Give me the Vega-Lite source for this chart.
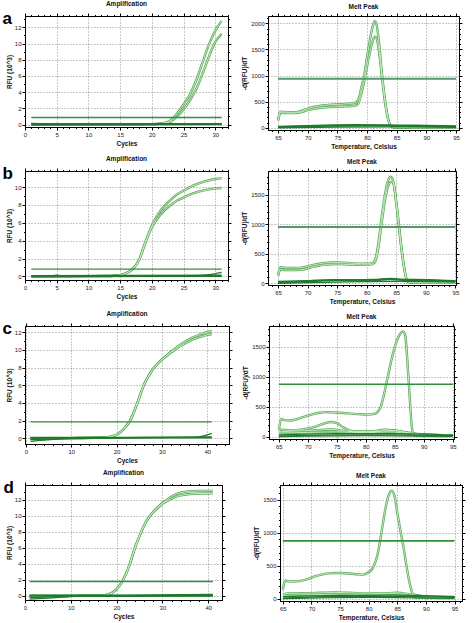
{
"$schema": "https://vega.github.io/schema/vega-lite/v6.json",
"background": "white",
"padding": {"left": 1, "top": 0, "right": 2, "bottom": 0},
"config": {
  "view": {"stroke": "#000", "strokeWidth": 1},
  "title": {"font": "Liberation Sans", "fontSize": 6.5, "fontWeight": "bold", "color": "#111", "offset": 2},
  "axis": {"labelFont": "Liberation Sans", "labelFontSize": 6, "labelColor": "#222", "labelPadding": 1, "labelOverlap": false, "labelFlush": false,
    "titleFont": "Liberation Sans", "titleFontSize": 6.5, "titleFontWeight": "bold", "titleColor": "#111", "titlePadding": 3,
    "domainColor": "#000", "domainWidth": 1, "tickColor": "#000", "tickWidth": 1, "gridColor": "#909090", "gridDash": [1, 2], "gridWidth": 1}
},
"datasets": {
"amp": [
{"panel":"a","series":"S1","kind":"sample","cycle":1,"rfu":0.02},{"panel":"a","series":"S1","kind":"sample","cycle":5,"rfu":0.02},{"panel":"a","series":"S1","kind":"sample","cycle":10,"rfu":0.03},{"panel":"a","series":"S1","kind":"sample","cycle":15,"rfu":0.03},{"panel":"a","series":"S1","kind":"sample","cycle":18,"rfu":0.04},{"panel":"a","series":"S1","kind":"sample","cycle":20,"rfu":0.06},{"panel":"a","series":"S1","kind":"sample","cycle":21,"rfu":0.1},{"panel":"a","series":"S1","kind":"sample","cycle":22,"rfu":0.22},{"panel":"a","series":"S1","kind":"sample","cycle":23,"rfu":0.55},{"panel":"a","series":"S1","kind":"sample","cycle":24,"rfu":1.4},{"panel":"a","series":"S1","kind":"sample","cycle":25,"rfu":2.5},{"panel":"a","series":"S1","kind":"sample","cycle":26,"rfu":3.7},{"panel":"a","series":"S1","kind":"sample","cycle":27,"rfu":5.5},{"panel":"a","series":"S1","kind":"sample","cycle":28,"rfu":7.7},{"panel":"a","series":"S1","kind":"sample","cycle":29,"rfu":9.9},{"panel":"a","series":"S1","kind":"sample","cycle":30,"rfu":11.6},{"panel":"a","series":"S1","kind":"sample","cycle":31,"rfu":12.8},
{"panel":"a","series":"S2","kind":"sample","cycle":1,"rfu":0.02},{"panel":"a","series":"S2","kind":"sample","cycle":5,"rfu":0.02},{"panel":"a","series":"S2","kind":"sample","cycle":10,"rfu":0.03},{"panel":"a","series":"S2","kind":"sample","cycle":15,"rfu":0.03},{"panel":"a","series":"S2","kind":"sample","cycle":18,"rfu":0.04},{"panel":"a","series":"S2","kind":"sample","cycle":20,"rfu":0.05},{"panel":"a","series":"S2","kind":"sample","cycle":21,"rfu":0.08},{"panel":"a","series":"S2","kind":"sample","cycle":22,"rfu":0.16},{"panel":"a","series":"S2","kind":"sample","cycle":23,"rfu":0.4},{"panel":"a","series":"S2","kind":"sample","cycle":24,"rfu":1.0},{"panel":"a","series":"S2","kind":"sample","cycle":25,"rfu":1.9},{"panel":"a","series":"S2","kind":"sample","cycle":26,"rfu":3.0},{"panel":"a","series":"S2","kind":"sample","cycle":27,"rfu":4.4},{"panel":"a","series":"S2","kind":"sample","cycle":28,"rfu":6.3},{"panel":"a","series":"S2","kind":"sample","cycle":29,"rfu":8.4},{"panel":"a","series":"S2","kind":"sample","cycle":30,"rfu":10.2},{"panel":"a","series":"S2","kind":"sample","cycle":31,"rfu":11.2},
{"panel":"a","series":"T","kind":"threshold","cycle":1,"rfu":0.88},{"panel":"a","series":"T","kind":"threshold","cycle":31,"rfu":0.88},
{"panel":"a","series":"B1","kind":"baseline","cycle":1,"rfu":0.1},{"panel":"a","series":"B1","kind":"baseline","cycle":10,"rfu":0.08},{"panel":"a","series":"B1","kind":"baseline","cycle":20,"rfu":0.1},{"panel":"a","series":"B1","kind":"baseline","cycle":31,"rfu":0.12},
{"panel":"a","series":"B2","kind":"baseline","cycle":1,"rfu":0.0},{"panel":"a","series":"B2","kind":"baseline","cycle":15,"rfu":0.02},{"panel":"a","series":"B2","kind":"baseline","cycle":31,"rfu":0.05},
{"panel":"a","series":"B3","kind":"baseline","cycle":1,"rfu":0.15},{"panel":"a","series":"B3","kind":"baseline","cycle":5,"rfu":0.1},{"panel":"a","series":"B3","kind":"baseline","cycle":31,"rfu":0.08},
{"panel":"a","series":"B4","kind":"baseline","cycle":1,"rfu":-0.05},{"panel":"a","series":"B4","kind":"baseline","cycle":31,"rfu":0.0},

{"panel":"b","series":"S1","kind":"sample","cycle":1,"rfu":0.0},{"panel":"b","series":"S1","kind":"sample","cycle":5,"rfu":0.02},{"panel":"b","series":"S1","kind":"sample","cycle":10,"rfu":0.03},{"panel":"b","series":"S1","kind":"sample","cycle":13,"rfu":0.05},{"panel":"b","series":"S1","kind":"sample","cycle":14,"rfu":0.08},{"panel":"b","series":"S1","kind":"sample","cycle":15,"rfu":0.15},{"panel":"b","series":"S1","kind":"sample","cycle":16,"rfu":0.38},{"panel":"b","series":"S1","kind":"sample","cycle":17,"rfu":0.85},{"panel":"b","series":"S1","kind":"sample","cycle":18,"rfu":1.9},{"panel":"b","series":"S1","kind":"sample","cycle":19,"rfu":3.9},{"panel":"b","series":"S1","kind":"sample","cycle":20,"rfu":5.7},{"panel":"b","series":"S1","kind":"sample","cycle":21,"rfu":7.0},{"panel":"b","series":"S1","kind":"sample","cycle":22,"rfu":7.9},{"panel":"b","series":"S1","kind":"sample","cycle":23,"rfu":8.6},{"panel":"b","series":"S1","kind":"sample","cycle":24,"rfu":9.2},{"panel":"b","series":"S1","kind":"sample","cycle":25,"rfu":9.6},{"panel":"b","series":"S1","kind":"sample","cycle":26,"rfu":10.0},{"panel":"b","series":"S1","kind":"sample","cycle":27,"rfu":10.3},{"panel":"b","series":"S1","kind":"sample","cycle":28,"rfu":10.55},{"panel":"b","series":"S1","kind":"sample","cycle":29,"rfu":10.75},{"panel":"b","series":"S1","kind":"sample","cycle":30,"rfu":10.9},{"panel":"b","series":"S1","kind":"sample","cycle":31,"rfu":11.0},
{"panel":"b","series":"S2","kind":"sample","cycle":1,"rfu":0.0},{"panel":"b","series":"S2","kind":"sample","cycle":5,"rfu":0.02},{"panel":"b","series":"S2","kind":"sample","cycle":10,"rfu":0.03},{"panel":"b","series":"S2","kind":"sample","cycle":13,"rfu":0.05},{"panel":"b","series":"S2","kind":"sample","cycle":14,"rfu":0.08},{"panel":"b","series":"S2","kind":"sample","cycle":15,"rfu":0.15},{"panel":"b","series":"S2","kind":"sample","cycle":16,"rfu":0.38},{"panel":"b","series":"S2","kind":"sample","cycle":17,"rfu":0.85},{"panel":"b","series":"S2","kind":"sample","cycle":18,"rfu":1.85},{"panel":"b","series":"S2","kind":"sample","cycle":19,"rfu":3.8},{"panel":"b","series":"S2","kind":"sample","cycle":20,"rfu":5.5},{"panel":"b","series":"S2","kind":"sample","cycle":21,"rfu":6.6},{"panel":"b","series":"S2","kind":"sample","cycle":22,"rfu":7.4},{"panel":"b","series":"S2","kind":"sample","cycle":23,"rfu":8.0},{"panel":"b","series":"S2","kind":"sample","cycle":24,"rfu":8.5},{"panel":"b","series":"S2","kind":"sample","cycle":25,"rfu":8.85},{"panel":"b","series":"S2","kind":"sample","cycle":26,"rfu":9.15},{"panel":"b","series":"S2","kind":"sample","cycle":27,"rfu":9.4},{"panel":"b","series":"S2","kind":"sample","cycle":28,"rfu":9.6},{"panel":"b","series":"S2","kind":"sample","cycle":29,"rfu":9.75},{"panel":"b","series":"S2","kind":"sample","cycle":30,"rfu":9.85},{"panel":"b","series":"S2","kind":"sample","cycle":31,"rfu":9.9},
{"panel":"b","series":"T","kind":"threshold","cycle":1,"rfu":0.82},{"panel":"b","series":"T","kind":"threshold","cycle":31,"rfu":0.82},
{"panel":"b","series":"B1","kind":"baseline","cycle":1,"rfu":0.05},{"panel":"b","series":"B1","kind":"baseline","cycle":4,"rfu":0.05},{"panel":"b","series":"B1","kind":"baseline","cycle":5,"rfu":0.15},{"panel":"b","series":"B1","kind":"baseline","cycle":6,"rfu":0.05},{"panel":"b","series":"B1","kind":"baseline","cycle":20,"rfu":0.05},{"panel":"b","series":"B1","kind":"baseline","cycle":27,"rfu":0.08},{"panel":"b","series":"B1","kind":"baseline","cycle":29,"rfu":0.2},{"panel":"b","series":"B1","kind":"baseline","cycle":31,"rfu":0.45},
{"panel":"b","series":"B2","kind":"baseline","cycle":1,"rfu":0.0},{"panel":"b","series":"B2","kind":"baseline","cycle":31,"rfu":0.1},
{"panel":"b","series":"B3","kind":"baseline","cycle":1,"rfu":0.08},{"panel":"b","series":"B3","kind":"baseline","cycle":31,"rfu":0.15},
{"panel":"b","series":"B4","kind":"baseline","cycle":1,"rfu":-0.03},{"panel":"b","series":"B4","kind":"baseline","cycle":31,"rfu":0.02},

{"panel":"c","series":"S1","kind":"sample","cycle":1,"rfu":0.0},{"panel":"c","series":"S1","kind":"sample","cycle":5,"rfu":0.0},{"panel":"c","series":"S1","kind":"sample","cycle":10,"rfu":0.02},{"panel":"c","series":"S1","kind":"sample","cycle":15,"rfu":0.05},{"panel":"c","series":"S1","kind":"sample","cycle":17,"rfu":0.08},{"panel":"c","series":"S1","kind":"sample","cycle":18,"rfu":0.12},{"panel":"c","series":"S1","kind":"sample","cycle":19,"rfu":0.22},{"panel":"c","series":"S1","kind":"sample","cycle":20,"rfu":0.4},{"panel":"c","series":"S1","kind":"sample","cycle":21,"rfu":0.75},{"panel":"c","series":"S1","kind":"sample","cycle":22,"rfu":1.3},{"panel":"c","series":"S1","kind":"sample","cycle":23,"rfu":2.0},{"panel":"c","series":"S1","kind":"sample","cycle":24,"rfu":3.2},{"panel":"c","series":"S1","kind":"sample","cycle":25,"rfu":4.6},{"panel":"c","series":"S1","kind":"sample","cycle":26,"rfu":6.0},{"panel":"c","series":"S1","kind":"sample","cycle":27,"rfu":7.0},{"panel":"c","series":"S1","kind":"sample","cycle":28,"rfu":7.8},{"panel":"c","series":"S1","kind":"sample","cycle":29,"rfu":8.4},{"panel":"c","series":"S1","kind":"sample","cycle":30,"rfu":8.9},{"panel":"c","series":"S1","kind":"sample","cycle":31,"rfu":9.35},{"panel":"c","series":"S1","kind":"sample","cycle":32,"rfu":9.8},{"panel":"c","series":"S1","kind":"sample","cycle":33,"rfu":10.2},{"panel":"c","series":"S1","kind":"sample","cycle":34,"rfu":10.55},{"panel":"c","series":"S1","kind":"sample","cycle":35,"rfu":10.9},{"panel":"c","series":"S1","kind":"sample","cycle":36,"rfu":11.2},{"panel":"c","series":"S1","kind":"sample","cycle":37,"rfu":11.45},{"panel":"c","series":"S1","kind":"sample","cycle":38,"rfu":11.65},{"panel":"c","series":"S1","kind":"sample","cycle":39,"rfu":11.85},{"panel":"c","series":"S1","kind":"sample","cycle":40,"rfu":12.0},{"panel":"c","series":"S1","kind":"sample","cycle":41,"rfu":12.1},
{"panel":"c","series":"S2","kind":"sample","cycle":1,"rfu":0.0},{"panel":"c","series":"S2","kind":"sample","cycle":5,"rfu":0.0},{"panel":"c","series":"S2","kind":"sample","cycle":10,"rfu":0.02},{"panel":"c","series":"S2","kind":"sample","cycle":15,"rfu":0.05},{"panel":"c","series":"S2","kind":"sample","cycle":17,"rfu":0.08},{"panel":"c","series":"S2","kind":"sample","cycle":18,"rfu":0.12},{"panel":"c","series":"S2","kind":"sample","cycle":19,"rfu":0.22},{"panel":"c","series":"S2","kind":"sample","cycle":20,"rfu":0.4},{"panel":"c","series":"S2","kind":"sample","cycle":21,"rfu":0.75},{"panel":"c","series":"S2","kind":"sample","cycle":22,"rfu":1.3},{"panel":"c","series":"S2","kind":"sample","cycle":23,"rfu":2.0},{"panel":"c","series":"S2","kind":"sample","cycle":24,"rfu":3.2},{"panel":"c","series":"S2","kind":"sample","cycle":25,"rfu":4.6},{"panel":"c","series":"S2","kind":"sample","cycle":26,"rfu":6.0},{"panel":"c","series":"S2","kind":"sample","cycle":27,"rfu":7.0},{"panel":"c","series":"S2","kind":"sample","cycle":28,"rfu":7.8},{"panel":"c","series":"S2","kind":"sample","cycle":29,"rfu":8.4},{"panel":"c","series":"S2","kind":"sample","cycle":30,"rfu":8.9},{"panel":"c","series":"S2","kind":"sample","cycle":31,"rfu":9.3},{"panel":"c","series":"S2","kind":"sample","cycle":32,"rfu":9.7},{"panel":"c","series":"S2","kind":"sample","cycle":33,"rfu":10.05},{"panel":"c","series":"S2","kind":"sample","cycle":34,"rfu":10.4},{"panel":"c","series":"S2","kind":"sample","cycle":35,"rfu":10.7},{"panel":"c","series":"S2","kind":"sample","cycle":36,"rfu":10.95},{"panel":"c","series":"S2","kind":"sample","cycle":37,"rfu":11.2},{"panel":"c","series":"S2","kind":"sample","cycle":38,"rfu":11.4},{"panel":"c","series":"S2","kind":"sample","cycle":39,"rfu":11.55},{"panel":"c","series":"S2","kind":"sample","cycle":40,"rfu":11.7},{"panel":"c","series":"S2","kind":"sample","cycle":41,"rfu":11.8},
{"panel":"c","series":"T","kind":"threshold","cycle":1,"rfu":1.85},{"panel":"c","series":"T","kind":"threshold","cycle":41,"rfu":1.85},
{"panel":"c","series":"B1","kind":"baseline","cycle":1,"rfu":-0.35},{"panel":"c","series":"B1","kind":"baseline","cycle":3,"rfu":-0.25},{"panel":"c","series":"B1","kind":"baseline","cycle":6,"rfu":-0.12},{"panel":"c","series":"B1","kind":"baseline","cycle":10,"rfu":-0.03},{"panel":"c","series":"B1","kind":"baseline","cycle":15,"rfu":0.0},{"panel":"c","series":"B1","kind":"baseline","cycle":41,"rfu":0.05},
{"panel":"c","series":"B2","kind":"baseline","cycle":1,"rfu":0.0},{"panel":"c","series":"B2","kind":"baseline","cycle":20,"rfu":0.05},{"panel":"c","series":"B2","kind":"baseline","cycle":37,"rfu":0.1},{"panel":"c","series":"B2","kind":"baseline","cycle":39,"rfu":0.25},{"panel":"c","series":"B2","kind":"baseline","cycle":41,"rfu":0.55},
{"panel":"c","series":"B3","kind":"baseline","cycle":1,"rfu":0.1},{"panel":"c","series":"B3","kind":"baseline","cycle":41,"rfu":0.1},
{"panel":"c","series":"B4","kind":"baseline","cycle":1,"rfu":-0.15},{"panel":"c","series":"B4","kind":"baseline","cycle":8,"rfu":-0.05},{"panel":"c","series":"B4","kind":"baseline","cycle":41,"rfu":0.15},

{"panel":"d","series":"S1","kind":"sample","cycle":1,"rfu":0.0},{"panel":"d","series":"S1","kind":"sample","cycle":5,"rfu":0.0},{"panel":"d","series":"S1","kind":"sample","cycle":10,"rfu":0.02},{"panel":"d","series":"S1","kind":"sample","cycle":15,"rfu":0.04},{"panel":"d","series":"S1","kind":"sample","cycle":17,"rfu":0.08},{"panel":"d","series":"S1","kind":"sample","cycle":18,"rfu":0.18},{"panel":"d","series":"S1","kind":"sample","cycle":19,"rfu":0.4},{"panel":"d","series":"S1","kind":"sample","cycle":20,"rfu":0.85},{"panel":"d","series":"S1","kind":"sample","cycle":21,"rfu":1.6},{"panel":"d","series":"S1","kind":"sample","cycle":22,"rfu":2.7},{"panel":"d","series":"S1","kind":"sample","cycle":23,"rfu":4.2},{"panel":"d","series":"S1","kind":"sample","cycle":24,"rfu":6.0},{"panel":"d","series":"S1","kind":"sample","cycle":25,"rfu":7.5},{"panel":"d","series":"S1","kind":"sample","cycle":26,"rfu":8.8},{"panel":"d","series":"S1","kind":"sample","cycle":27,"rfu":9.8},{"panel":"d","series":"S1","kind":"sample","cycle":28,"rfu":10.5},{"panel":"d","series":"S1","kind":"sample","cycle":29,"rfu":11.1},{"panel":"d","series":"S1","kind":"sample","cycle":30,"rfu":11.6},{"panel":"d","series":"S1","kind":"sample","cycle":31,"rfu":12.0},{"panel":"d","series":"S1","kind":"sample","cycle":32,"rfu":12.4},{"panel":"d","series":"S1","kind":"sample","cycle":33,"rfu":12.7},{"panel":"d","series":"S1","kind":"sample","cycle":34,"rfu":12.9},{"panel":"d","series":"S1","kind":"sample","cycle":35,"rfu":13.0},{"panel":"d","series":"S1","kind":"sample","cycle":36,"rfu":13.08},{"panel":"d","series":"S1","kind":"sample","cycle":38,"rfu":13.12},{"panel":"d","series":"S1","kind":"sample","cycle":41,"rfu":13.12},
{"panel":"d","series":"S2","kind":"sample","cycle":1,"rfu":0.0},{"panel":"d","series":"S2","kind":"sample","cycle":5,"rfu":0.0},{"panel":"d","series":"S2","kind":"sample","cycle":10,"rfu":0.02},{"panel":"d","series":"S2","kind":"sample","cycle":15,"rfu":0.04},{"panel":"d","series":"S2","kind":"sample","cycle":17,"rfu":0.08},{"panel":"d","series":"S2","kind":"sample","cycle":18,"rfu":0.18},{"panel":"d","series":"S2","kind":"sample","cycle":19,"rfu":0.4},{"panel":"d","series":"S2","kind":"sample","cycle":20,"rfu":0.85},{"panel":"d","series":"S2","kind":"sample","cycle":21,"rfu":1.6},{"panel":"d","series":"S2","kind":"sample","cycle":22,"rfu":2.7},{"panel":"d","series":"S2","kind":"sample","cycle":23,"rfu":4.2},{"panel":"d","series":"S2","kind":"sample","cycle":24,"rfu":6.0},{"panel":"d","series":"S2","kind":"sample","cycle":25,"rfu":7.5},{"panel":"d","series":"S2","kind":"sample","cycle":26,"rfu":8.8},{"panel":"d","series":"S2","kind":"sample","cycle":27,"rfu":9.8},{"panel":"d","series":"S2","kind":"sample","cycle":28,"rfu":10.45},{"panel":"d","series":"S2","kind":"sample","cycle":29,"rfu":11.0},{"panel":"d","series":"S2","kind":"sample","cycle":30,"rfu":11.5},{"panel":"d","series":"S2","kind":"sample","cycle":31,"rfu":11.85},{"panel":"d","series":"S2","kind":"sample","cycle":32,"rfu":12.15},{"panel":"d","series":"S2","kind":"sample","cycle":33,"rfu":12.4},{"panel":"d","series":"S2","kind":"sample","cycle":34,"rfu":12.55},{"panel":"d","series":"S2","kind":"sample","cycle":35,"rfu":12.65},{"panel":"d","series":"S2","kind":"sample","cycle":36,"rfu":12.72},{"panel":"d","series":"S2","kind":"sample","cycle":38,"rfu":12.78},{"panel":"d","series":"S2","kind":"sample","cycle":41,"rfu":12.8},
{"panel":"d","series":"T","kind":"threshold","cycle":1,"rfu":1.8},{"panel":"d","series":"T","kind":"threshold","cycle":41,"rfu":1.8},
{"panel":"d","series":"B1","kind":"baseline","cycle":1,"rfu":-0.4},{"panel":"d","series":"B1","kind":"baseline","cycle":4,"rfu":-0.3},{"panel":"d","series":"B1","kind":"baseline","cycle":8,"rfu":-0.15},{"panel":"d","series":"B1","kind":"baseline","cycle":12,"rfu":-0.02},{"panel":"d","series":"B1","kind":"baseline","cycle":20,"rfu":0.0},{"panel":"d","series":"B1","kind":"baseline","cycle":41,"rfu":0.05},
{"panel":"d","series":"B2","kind":"baseline","cycle":1,"rfu":0.0},{"panel":"d","series":"B2","kind":"baseline","cycle":41,"rfu":0.1},
{"panel":"d","series":"B3","kind":"baseline","cycle":1,"rfu":0.1},{"panel":"d","series":"B3","kind":"baseline","cycle":20,"rfu":0.1},{"panel":"d","series":"B3","kind":"baseline","cycle":41,"rfu":0.2},
{"panel":"d","series":"B4","kind":"baseline","cycle":1,"rfu":-0.2},{"panel":"d","series":"B4","kind":"baseline","cycle":10,"rfu":-0.05},{"panel":"d","series":"B4","kind":"baseline","cycle":41,"rfu":0.0}
],
"melt": [
{"panel":"a","series":"S1","kind":"sample","temp":65,"dfdt":150},{"panel":"a","series":"S1","kind":"sample","temp":65.4,"dfdt":310},{"panel":"a","series":"S1","kind":"sample","temp":66,"dfdt":305},{"panel":"a","series":"S1","kind":"sample","temp":67,"dfdt":300},{"panel":"a","series":"S1","kind":"sample","temp":68,"dfdt":300},{"panel":"a","series":"S1","kind":"sample","temp":69,"dfdt":330},{"panel":"a","series":"S1","kind":"sample","temp":70,"dfdt":370},{"panel":"a","series":"S1","kind":"sample","temp":71,"dfdt":400},{"panel":"a","series":"S1","kind":"sample","temp":72,"dfdt":420},{"panel":"a","series":"S1","kind":"sample","temp":73,"dfdt":435},{"panel":"a","series":"S1","kind":"sample","temp":74,"dfdt":445},{"panel":"a","series":"S1","kind":"sample","temp":75,"dfdt":450},{"panel":"a","series":"S1","kind":"sample","temp":76,"dfdt":455},{"panel":"a","series":"S1","kind":"sample","temp":77,"dfdt":465},{"panel":"a","series":"S1","kind":"sample","temp":78,"dfdt":480},{"panel":"a","series":"S1","kind":"sample","temp":78.5,"dfdt":530},{"panel":"a","series":"S1","kind":"sample","temp":79,"dfdt":750},{"panel":"a","series":"S1","kind":"sample","temp":79.5,"dfdt":1000},{"panel":"a","series":"S1","kind":"sample","temp":80,"dfdt":1350},{"panel":"a","series":"S1","kind":"sample","temp":80.5,"dfdt":1700},{"panel":"a","series":"S1","kind":"sample","temp":81,"dfdt":1960},{"panel":"a","series":"S1","kind":"sample","temp":81.3,"dfdt":2040},{"panel":"a","series":"S1","kind":"sample","temp":81.6,"dfdt":1980},{"panel":"a","series":"S1","kind":"sample","temp":82,"dfdt":1650},{"panel":"a","series":"S1","kind":"sample","temp":82.5,"dfdt":1050},{"panel":"a","series":"S1","kind":"sample","temp":83,"dfdt":550},{"panel":"a","series":"S1","kind":"sample","temp":83.5,"dfdt":200},{"panel":"a","series":"S1","kind":"sample","temp":84,"dfdt":40},{"panel":"a","series":"S1","kind":"sample","temp":84.5,"dfdt":8},{"panel":"a","series":"S1","kind":"sample","temp":88,"dfdt":10},{"panel":"a","series":"S1","kind":"sample","temp":95,"dfdt":12},
{"panel":"a","series":"S2","kind":"sample","temp":65,"dfdt":140},{"panel":"a","series":"S2","kind":"sample","temp":65.4,"dfdt":295},{"panel":"a","series":"S2","kind":"sample","temp":66,"dfdt":285},{"panel":"a","series":"S2","kind":"sample","temp":67,"dfdt":282},{"panel":"a","series":"S2","kind":"sample","temp":68,"dfdt":285},{"panel":"a","series":"S2","kind":"sample","temp":69,"dfdt":305},{"panel":"a","series":"S2","kind":"sample","temp":70,"dfdt":340},{"panel":"a","series":"S2","kind":"sample","temp":71,"dfdt":365},{"panel":"a","series":"S2","kind":"sample","temp":72,"dfdt":385},{"panel":"a","series":"S2","kind":"sample","temp":73,"dfdt":395},{"panel":"a","series":"S2","kind":"sample","temp":74,"dfdt":400},{"panel":"a","series":"S2","kind":"sample","temp":75,"dfdt":405},{"panel":"a","series":"S2","kind":"sample","temp":76,"dfdt":410},{"panel":"a","series":"S2","kind":"sample","temp":77,"dfdt":415},{"panel":"a","series":"S2","kind":"sample","temp":78,"dfdt":425},{"panel":"a","series":"S2","kind":"sample","temp":78.5,"dfdt":460},{"panel":"a","series":"S2","kind":"sample","temp":79,"dfdt":640},{"panel":"a","series":"S2","kind":"sample","temp":79.5,"dfdt":880},{"panel":"a","series":"S2","kind":"sample","temp":80,"dfdt":1180},{"panel":"a","series":"S2","kind":"sample","temp":80.5,"dfdt":1450},{"panel":"a","series":"S2","kind":"sample","temp":81,"dfdt":1680},{"panel":"a","series":"S2","kind":"sample","temp":81.3,"dfdt":1745},{"panel":"a","series":"S2","kind":"sample","temp":81.6,"dfdt":1720},{"panel":"a","series":"S2","kind":"sample","temp":82,"dfdt":1480},{"panel":"a","series":"S2","kind":"sample","temp":82.5,"dfdt":980},{"panel":"a","series":"S2","kind":"sample","temp":83,"dfdt":520},{"panel":"a","series":"S2","kind":"sample","temp":83.5,"dfdt":190},{"panel":"a","series":"S2","kind":"sample","temp":84,"dfdt":40},{"panel":"a","series":"S2","kind":"sample","temp":84.5,"dfdt":8},{"panel":"a","series":"S2","kind":"sample","temp":88,"dfdt":10},{"panel":"a","series":"S2","kind":"sample","temp":95,"dfdt":12},
{"panel":"a","series":"T","kind":"threshold","temp":65,"dfdt":940},{"panel":"a","series":"T","kind":"threshold","temp":95,"dfdt":940},
{"panel":"a","series":"B1","kind":"baseline","temp":65,"dfdt":20},{"panel":"a","series":"B1","kind":"baseline","temp":70,"dfdt":40},{"panel":"a","series":"B1","kind":"baseline","temp":75,"dfdt":50},{"panel":"a","series":"B1","kind":"baseline","temp":80,"dfdt":50},{"panel":"a","series":"B1","kind":"baseline","temp":85,"dfdt":45},{"panel":"a","series":"B1","kind":"baseline","temp":90,"dfdt":40},{"panel":"a","series":"B1","kind":"baseline","temp":95,"dfdt":30},
{"panel":"a","series":"B2","kind":"baseline","temp":65,"dfdt":10},{"panel":"a","series":"B2","kind":"baseline","temp":70,"dfdt":25},{"panel":"a","series":"B2","kind":"baseline","temp":75,"dfdt":35},{"panel":"a","series":"B2","kind":"baseline","temp":80,"dfdt":40},{"panel":"a","series":"B2","kind":"baseline","temp":85,"dfdt":35},{"panel":"a","series":"B2","kind":"baseline","temp":90,"dfdt":30},{"panel":"a","series":"B2","kind":"baseline","temp":95,"dfdt":20},
{"panel":"a","series":"B3","kind":"baseline","temp":65,"dfdt":0},{"panel":"a","series":"B3","kind":"baseline","temp":75,"dfdt":15},{"panel":"a","series":"B3","kind":"baseline","temp":85,"dfdt":20},{"panel":"a","series":"B3","kind":"baseline","temp":95,"dfdt":10},
{"panel":"a","series":"B4","kind":"baseline","temp":65,"dfdt":30},{"panel":"a","series":"B4","kind":"baseline","temp":70,"dfdt":45},{"panel":"a","series":"B4","kind":"baseline","temp":78,"dfdt":60},{"panel":"a","series":"B4","kind":"baseline","temp":85,"dfdt":55},{"panel":"a","series":"B4","kind":"baseline","temp":90,"dfdt":50},{"panel":"a","series":"B4","kind":"baseline","temp":95,"dfdt":40},

{"panel":"b","series":"S1","kind":"sample","temp":65,"dfdt":140},{"panel":"b","series":"S1","kind":"sample","temp":65.4,"dfdt":270},{"panel":"b","series":"S1","kind":"sample","temp":66,"dfdt":262},{"panel":"b","series":"S1","kind":"sample","temp":67,"dfdt":258},{"panel":"b","series":"S1","kind":"sample","temp":68,"dfdt":260},{"panel":"b","series":"S1","kind":"sample","temp":69,"dfdt":265},{"panel":"b","series":"S1","kind":"sample","temp":70,"dfdt":285},{"panel":"b","series":"S1","kind":"sample","temp":71,"dfdt":310},{"panel":"b","series":"S1","kind":"sample","temp":72,"dfdt":330},{"panel":"b","series":"S1","kind":"sample","temp":73,"dfdt":345},{"panel":"b","series":"S1","kind":"sample","temp":74,"dfdt":350},{"panel":"b","series":"S1","kind":"sample","temp":75,"dfdt":350},{"panel":"b","series":"S1","kind":"sample","temp":76,"dfdt":348},{"panel":"b","series":"S1","kind":"sample","temp":77,"dfdt":342},{"panel":"b","series":"S1","kind":"sample","temp":78,"dfdt":336},{"panel":"b","series":"S1","kind":"sample","temp":79,"dfdt":332},{"panel":"b","series":"S1","kind":"sample","temp":80,"dfdt":330},{"panel":"b","series":"S1","kind":"sample","temp":81,"dfdt":345},{"panel":"b","series":"S1","kind":"sample","temp":81.5,"dfdt":420},{"panel":"b","series":"S1","kind":"sample","temp":82,"dfdt":700},{"panel":"b","series":"S1","kind":"sample","temp":82.5,"dfdt":1100},{"panel":"b","series":"S1","kind":"sample","temp":83,"dfdt":1450},{"panel":"b","series":"S1","kind":"sample","temp":83.5,"dfdt":1700},{"panel":"b","series":"S1","kind":"sample","temp":84,"dfdt":1805},{"panel":"b","series":"S1","kind":"sample","temp":84.4,"dfdt":1760},{"panel":"b","series":"S1","kind":"sample","temp":85,"dfdt":1350},{"panel":"b","series":"S1","kind":"sample","temp":85.5,"dfdt":900},{"panel":"b","series":"S1","kind":"sample","temp":86,"dfdt":480},{"panel":"b","series":"S1","kind":"sample","temp":86.5,"dfdt":160},{"panel":"b","series":"S1","kind":"sample","temp":87,"dfdt":20},{"panel":"b","series":"S1","kind":"sample","temp":88,"dfdt":10},{"panel":"b","series":"S1","kind":"sample","temp":95,"dfdt":10},
{"panel":"b","series":"S2","kind":"sample","temp":65,"dfdt":125},{"panel":"b","series":"S2","kind":"sample","temp":65.4,"dfdt":230},{"panel":"b","series":"S2","kind":"sample","temp":66,"dfdt":225},{"panel":"b","series":"S2","kind":"sample","temp":67,"dfdt":222},{"panel":"b","series":"S2","kind":"sample","temp":68,"dfdt":224},{"panel":"b","series":"S2","kind":"sample","temp":69,"dfdt":230},{"panel":"b","series":"S2","kind":"sample","temp":70,"dfdt":250},{"panel":"b","series":"S2","kind":"sample","temp":71,"dfdt":280},{"panel":"b","series":"S2","kind":"sample","temp":72,"dfdt":300},{"panel":"b","series":"S2","kind":"sample","temp":73,"dfdt":315},{"panel":"b","series":"S2","kind":"sample","temp":74,"dfdt":322},{"panel":"b","series":"S2","kind":"sample","temp":75,"dfdt":325},{"panel":"b","series":"S2","kind":"sample","temp":76,"dfdt":322},{"panel":"b","series":"S2","kind":"sample","temp":77,"dfdt":317},{"panel":"b","series":"S2","kind":"sample","temp":78,"dfdt":313},{"panel":"b","series":"S2","kind":"sample","temp":79,"dfdt":310},{"panel":"b","series":"S2","kind":"sample","temp":80,"dfdt":310},{"panel":"b","series":"S2","kind":"sample","temp":81,"dfdt":322},{"panel":"b","series":"S2","kind":"sample","temp":81.5,"dfdt":380},{"panel":"b","series":"S2","kind":"sample","temp":82,"dfdt":620},{"panel":"b","series":"S2","kind":"sample","temp":82.5,"dfdt":1000},{"panel":"b","series":"S2","kind":"sample","temp":83,"dfdt":1350},{"panel":"b","series":"S2","kind":"sample","temp":83.5,"dfdt":1600},{"panel":"b","series":"S2","kind":"sample","temp":84,"dfdt":1710},{"panel":"b","series":"S2","kind":"sample","temp":84.4,"dfdt":1720},{"panel":"b","series":"S2","kind":"sample","temp":85,"dfdt":1380},{"panel":"b","series":"S2","kind":"sample","temp":85.5,"dfdt":930},{"panel":"b","series":"S2","kind":"sample","temp":86,"dfdt":500},{"panel":"b","series":"S2","kind":"sample","temp":86.5,"dfdt":170},{"panel":"b","series":"S2","kind":"sample","temp":87,"dfdt":20},{"panel":"b","series":"S2","kind":"sample","temp":88,"dfdt":10},{"panel":"b","series":"S2","kind":"sample","temp":95,"dfdt":10},
{"panel":"b","series":"T","kind":"threshold","temp":65,"dfdt":950},{"panel":"b","series":"T","kind":"threshold","temp":95,"dfdt":950},
{"panel":"b","series":"B1","kind":"baseline","temp":65,"dfdt":10},{"panel":"b","series":"B1","kind":"baseline","temp":70,"dfdt":40},{"panel":"b","series":"B1","kind":"baseline","temp":75,"dfdt":60},{"panel":"b","series":"B1","kind":"baseline","temp":80,"dfdt":50},{"panel":"b","series":"B1","kind":"baseline","temp":84,"dfdt":80},{"panel":"b","series":"B1","kind":"baseline","temp":87,"dfdt":50},{"panel":"b","series":"B1","kind":"baseline","temp":90,"dfdt":45},{"panel":"b","series":"B1","kind":"baseline","temp":95,"dfdt":40},
{"panel":"b","series":"B2","kind":"baseline","temp":65,"dfdt":20},{"panel":"b","series":"B2","kind":"baseline","temp":70,"dfdt":30},{"panel":"b","series":"B2","kind":"baseline","temp":75,"dfdt":45},{"panel":"b","series":"B2","kind":"baseline","temp":80,"dfdt":40},{"panel":"b","series":"B2","kind":"baseline","temp":84,"dfdt":60},{"panel":"b","series":"B2","kind":"baseline","temp":88,"dfdt":40},{"panel":"b","series":"B2","kind":"baseline","temp":95,"dfdt":30},
{"panel":"b","series":"B3","kind":"baseline","temp":65,"dfdt":0},{"panel":"b","series":"B3","kind":"baseline","temp":75,"dfdt":20},{"panel":"b","series":"B3","kind":"baseline","temp":85,"dfdt":30},{"panel":"b","series":"B3","kind":"baseline","temp":95,"dfdt":20},
{"panel":"b","series":"B4","kind":"baseline","temp":65,"dfdt":30},{"panel":"b","series":"B4","kind":"baseline","temp":75,"dfdt":55},{"panel":"b","series":"B4","kind":"baseline","temp":85,"dfdt":70},{"panel":"b","series":"B4","kind":"baseline","temp":95,"dfdt":45},

{"panel":"c","series":"S1","kind":"sample","temp":65,"dfdt":115},{"panel":"c","series":"S1","kind":"sample","temp":65.4,"dfdt":295},{"panel":"c","series":"S1","kind":"sample","temp":66,"dfdt":275},{"panel":"c","series":"S1","kind":"sample","temp":67,"dfdt":270},{"panel":"c","series":"S1","kind":"sample","temp":68,"dfdt":290},{"panel":"c","series":"S1","kind":"sample","temp":69,"dfdt":320},{"panel":"c","series":"S1","kind":"sample","temp":70,"dfdt":350},{"panel":"c","series":"S1","kind":"sample","temp":71,"dfdt":380},{"panel":"c","series":"S1","kind":"sample","temp":72,"dfdt":400},{"panel":"c","series":"S1","kind":"sample","temp":73,"dfdt":410},{"panel":"c","series":"S1","kind":"sample","temp":74,"dfdt":405},{"panel":"c","series":"S1","kind":"sample","temp":75,"dfdt":400},{"panel":"c","series":"S1","kind":"sample","temp":76,"dfdt":395},{"panel":"c","series":"S1","kind":"sample","temp":77,"dfdt":388},{"panel":"c","series":"S1","kind":"sample","temp":78,"dfdt":380},{"panel":"c","series":"S1","kind":"sample","temp":79,"dfdt":375},{"panel":"c","series":"S1","kind":"sample","temp":80,"dfdt":370},{"panel":"c","series":"S1","kind":"sample","temp":81,"dfdt":372},{"panel":"c","series":"S1","kind":"sample","temp":81.5,"dfdt":380},{"panel":"c","series":"S1","kind":"sample","temp":82,"dfdt":410},{"panel":"c","series":"S1","kind":"sample","temp":82.5,"dfdt":480},{"panel":"c","series":"S1","kind":"sample","temp":83,"dfdt":650},{"panel":"c","series":"S1","kind":"sample","temp":83.5,"dfdt":870},{"panel":"c","series":"S1","kind":"sample","temp":84,"dfdt":1100},{"panel":"c","series":"S1","kind":"sample","temp":84.5,"dfdt":1320},{"panel":"c","series":"S1","kind":"sample","temp":85,"dfdt":1500},{"panel":"c","series":"S1","kind":"sample","temp":85.5,"dfdt":1640},{"panel":"c","series":"S1","kind":"sample","temp":86,"dfdt":1730},{"panel":"c","series":"S1","kind":"sample","temp":86.4,"dfdt":1760},{"panel":"c","series":"S1","kind":"sample","temp":86.8,"dfdt":1690},{"panel":"c","series":"S1","kind":"sample","temp":87.1,"dfdt":1350},{"panel":"c","series":"S1","kind":"sample","temp":87.4,"dfdt":900},{"panel":"c","series":"S1","kind":"sample","temp":87.7,"dfdt":450},{"panel":"c","series":"S1","kind":"sample","temp":88,"dfdt":100},{"panel":"c","series":"S1","kind":"sample","temp":88.3,"dfdt":20},{"panel":"c","series":"S1","kind":"sample","temp":90,"dfdt":15},{"panel":"c","series":"S1","kind":"sample","temp":95,"dfdt":10},
{"panel":"c","series":"C2","kind":"sample","temp":65,"dfdt":100},{"panel":"c","series":"C2","kind":"sample","temp":65.4,"dfdt":115},{"panel":"c","series":"C2","kind":"sample","temp":67,"dfdt":105},{"panel":"c","series":"C2","kind":"sample","temp":69,"dfdt":120},{"panel":"c","series":"C2","kind":"sample","temp":71,"dfdt":160},{"panel":"c","series":"C2","kind":"sample","temp":72.5,"dfdt":210},{"panel":"c","series":"C2","kind":"sample","temp":74,"dfdt":245},{"panel":"c","series":"C2","kind":"sample","temp":75,"dfdt":225},{"panel":"c","series":"C2","kind":"sample","temp":76,"dfdt":160},{"panel":"c","series":"C2","kind":"sample","temp":77,"dfdt":110},{"panel":"c","series":"C2","kind":"sample","temp":78,"dfdt":90},{"panel":"c","series":"C2","kind":"sample","temp":80,"dfdt":85},{"panel":"c","series":"C2","kind":"sample","temp":82,"dfdt":100},{"panel":"c","series":"C2","kind":"sample","temp":83,"dfdt":115},{"panel":"c","series":"C2","kind":"sample","temp":84,"dfdt":110},{"panel":"c","series":"C2","kind":"sample","temp":86,"dfdt":85},{"panel":"c","series":"C2","kind":"sample","temp":88,"dfdt":50},{"panel":"c","series":"C2","kind":"sample","temp":90,"dfdt":30},{"panel":"c","series":"C2","kind":"sample","temp":95,"dfdt":20},
{"panel":"c","series":"C3","kind":"sample","temp":65,"dfdt":80},{"panel":"c","series":"C3","kind":"sample","temp":67,"dfdt":90},{"panel":"c","series":"C3","kind":"sample","temp":70,"dfdt":100},{"panel":"c","series":"C3","kind":"sample","temp":74,"dfdt":120},{"panel":"c","series":"C3","kind":"sample","temp":76,"dfdt":100},{"panel":"c","series":"C3","kind":"sample","temp":78,"dfdt":80},{"panel":"c","series":"C3","kind":"sample","temp":80,"dfdt":75},{"panel":"c","series":"C3","kind":"sample","temp":83,"dfdt":95},{"panel":"c","series":"C3","kind":"sample","temp":85,"dfdt":100},{"panel":"c","series":"C3","kind":"sample","temp":87,"dfdt":70},{"panel":"c","series":"C3","kind":"sample","temp":90,"dfdt":35},{"panel":"c","series":"C3","kind":"sample","temp":95,"dfdt":20},
{"panel":"c","series":"C4","kind":"sample","temp":65,"dfdt":60},{"panel":"c","series":"C4","kind":"sample","temp":70,"dfdt":70},{"panel":"c","series":"C4","kind":"sample","temp":75,"dfdt":80},{"panel":"c","series":"C4","kind":"sample","temp":80,"dfdt":65},{"panel":"c","series":"C4","kind":"sample","temp":84,"dfdt":80},{"panel":"c","series":"C4","kind":"sample","temp":88,"dfdt":45},{"panel":"c","series":"C4","kind":"sample","temp":95,"dfdt":15},
{"panel":"c","series":"T","kind":"threshold","temp":65,"dfdt":875},{"panel":"c","series":"T","kind":"threshold","temp":95,"dfdt":875},
{"panel":"c","series":"B1","kind":"baseline","temp":65,"dfdt":10},{"panel":"c","series":"B1","kind":"baseline","temp":75,"dfdt":30},{"panel":"c","series":"B1","kind":"baseline","temp":85,"dfdt":30},{"panel":"c","series":"B1","kind":"baseline","temp":95,"dfdt":15},
{"panel":"c","series":"B2","kind":"baseline","temp":65,"dfdt":30},{"panel":"c","series":"B2","kind":"baseline","temp":75,"dfdt":50},{"panel":"c","series":"B2","kind":"baseline","temp":85,"dfdt":50},{"panel":"c","series":"B2","kind":"baseline","temp":95,"dfdt":25},
{"panel":"c","series":"B3","kind":"baseline","temp":65,"dfdt":0},{"panel":"c","series":"B3","kind":"baseline","temp":80,"dfdt":15},{"panel":"c","series":"B3","kind":"baseline","temp":95,"dfdt":5},

{"panel":"d","series":"S1","kind":"sample","temp":65,"dfdt":135},{"panel":"d","series":"S1","kind":"sample","temp":65.4,"dfdt":275},{"panel":"d","series":"S1","kind":"sample","temp":66,"dfdt":262},{"panel":"d","series":"S1","kind":"sample","temp":67,"dfdt":260},{"panel":"d","series":"S1","kind":"sample","temp":68,"dfdt":270},{"panel":"d","series":"S1","kind":"sample","temp":69,"dfdt":290},{"panel":"d","series":"S1","kind":"sample","temp":70,"dfdt":320},{"panel":"d","series":"S1","kind":"sample","temp":71,"dfdt":350},{"panel":"d","series":"S1","kind":"sample","temp":72,"dfdt":370},{"panel":"d","series":"S1","kind":"sample","temp":73,"dfdt":385},{"panel":"d","series":"S1","kind":"sample","temp":74,"dfdt":390},{"panel":"d","series":"S1","kind":"sample","temp":75,"dfdt":390},{"panel":"d","series":"S1","kind":"sample","temp":76,"dfdt":385},{"panel":"d","series":"S1","kind":"sample","temp":77,"dfdt":378},{"panel":"d","series":"S1","kind":"sample","temp":78,"dfdt":370},{"panel":"d","series":"S1","kind":"sample","temp":79,"dfdt":365},{"panel":"d","series":"S1","kind":"sample","temp":79.5,"dfdt":375},{"panel":"d","series":"S1","kind":"sample","temp":80,"dfdt":400},{"panel":"d","series":"S1","kind":"sample","temp":80.5,"dfdt":440},{"panel":"d","series":"S1","kind":"sample","temp":81,"dfdt":520},{"panel":"d","series":"S1","kind":"sample","temp":81.5,"dfdt":650},{"panel":"d","series":"S1","kind":"sample","temp":82,"dfdt":880},{"panel":"d","series":"S1","kind":"sample","temp":82.5,"dfdt":1150},{"panel":"d","series":"S1","kind":"sample","temp":83,"dfdt":1400},{"panel":"d","series":"S1","kind":"sample","temp":83.5,"dfdt":1570},{"panel":"d","series":"S1","kind":"sample","temp":84,"dfdt":1640},{"panel":"d","series":"S1","kind":"sample","temp":84.5,"dfdt":1560},{"panel":"d","series":"S1","kind":"sample","temp":85,"dfdt":1300},{"panel":"d","series":"S1","kind":"sample","temp":85.5,"dfdt":1050},{"panel":"d","series":"S1","kind":"sample","temp":86,"dfdt":820},{"panel":"d","series":"S1","kind":"sample","temp":86.5,"dfdt":550},{"panel":"d","series":"S1","kind":"sample","temp":87,"dfdt":300},{"panel":"d","series":"S1","kind":"sample","temp":87.5,"dfdt":120},{"panel":"d","series":"S1","kind":"sample","temp":88,"dfdt":20},{"panel":"d","series":"S1","kind":"sample","temp":90,"dfdt":15},{"panel":"d","series":"S1","kind":"sample","temp":95,"dfdt":10},
{"panel":"d","series":"D2","kind":"sample","temp":65,"dfdt":70},{"panel":"d","series":"D2","kind":"sample","temp":66,"dfdt":80},{"panel":"d","series":"D2","kind":"sample","temp":70,"dfdt":85},{"panel":"d","series":"D2","kind":"sample","temp":74,"dfdt":95},{"panel":"d","series":"D2","kind":"sample","temp":78,"dfdt":85},{"panel":"d","series":"D2","kind":"sample","temp":82,"dfdt":80},{"panel":"d","series":"D2","kind":"sample","temp":85,"dfdt":90},{"panel":"d","series":"D2","kind":"sample","temp":87,"dfdt":70},{"panel":"d","series":"D2","kind":"sample","temp":90,"dfdt":35},{"panel":"d","series":"D2","kind":"sample","temp":95,"dfdt":25},
{"panel":"d","series":"D3","kind":"sample","temp":65,"dfdt":50},{"panel":"d","series":"D3","kind":"sample","temp":70,"dfdt":60},{"panel":"d","series":"D3","kind":"sample","temp":75,"dfdt":70},{"panel":"d","series":"D3","kind":"sample","temp":80,"dfdt":60},{"panel":"d","series":"D3","kind":"sample","temp":84,"dfdt":75},{"panel":"d","series":"D3","kind":"sample","temp":88,"dfdt":40},{"panel":"d","series":"D3","kind":"sample","temp":95,"dfdt":20},
{"panel":"d","series":"T","kind":"threshold","temp":65,"dfdt":877},{"panel":"d","series":"T","kind":"threshold","temp":95,"dfdt":877},
{"panel":"d","series":"B1","kind":"baseline","temp":65,"dfdt":10},{"panel":"d","series":"B1","kind":"baseline","temp":75,"dfdt":35},{"panel":"d","series":"B1","kind":"baseline","temp":85,"dfdt":35},{"panel":"d","series":"B1","kind":"baseline","temp":95,"dfdt":20},
{"panel":"d","series":"B2","kind":"baseline","temp":65,"dfdt":30},{"panel":"d","series":"B2","kind":"baseline","temp":75,"dfdt":50},{"panel":"d","series":"B2","kind":"baseline","temp":85,"dfdt":55},{"panel":"d","series":"B2","kind":"baseline","temp":95,"dfdt":30},
{"panel":"d","series":"B3","kind":"baseline","temp":65,"dfdt":0},{"panel":"d","series":"B3","kind":"baseline","temp":80,"dfdt":20},{"panel":"d","series":"B3","kind":"baseline","temp":95,"dfdt":5}
]
},
"vconcat": [
{"hconcat": [
  {"width": 203, "height": 111, "title": "Amplification",
   "data": {"name": "amp"}, "transform": [{"filter": "datum.panel === 'a'"}],
   "encoding": {
     "x": {"field": "cycle", "type": "quantitative", "scale": {"domain": [0, 32], "nice": false, "zero": false}, "axis": null},
     "y": {"field": "rfu", "type": "quantitative", "scale": {"domain": [-0.3, 13.4], "nice": false, "zero": false}, "axis": null},
     "detail": {"field": "series"}},
   "layer": [
     {"transform": [{"filter": "datum.kind === 'sample'"}], "mark": {"type": "line", "interpolate": "monotone", "color": "#5aa85a", "strokeWidth": 2.4},
      "encoding": {
        "x": {"field": "cycle", "type": "quantitative", "scale": {"domain": [0, 32], "nice": false, "zero": false}, "axis": {"orient": "bottom", "title": "Cycles", "values": [0,1,2,3,4,5,6,7,8,9,10,11,12,13,14,15,16,17,18,19,20,21,22,23,24,25,26,27,28,29,30,31,32], "labelExpr": "datum.value % 5 === 0 ? datum.label : ''", "tickSize": {"condition": {"test": "datum.value % 5 === 0", "value": 3}, "value": 1.5}, "gridOpacity": {"condition": {"test": "datum.value % 5 === 0", "value": 1}, "value": 0}}},
        "y": {"field": "rfu", "type": "quantitative", "scale": {"domain": [-0.3, 13.4], "nice": false, "zero": false}, "axis": {"orient": "left", "title": "RFU (10^3)", "titlePadding": 2, "values": [0,1,2,3,4,5,6,7,8,9,10,11,12,13], "labelExpr": "datum.value % 2 === 0 ? datum.label : ''", "tickSize": {"condition": {"test": "datum.value % 2 === 0", "value": 3}, "value": 1.5}, "gridOpacity": {"condition": {"test": "datum.value % 2 === 0", "value": 1}, "value": 0}}}}},
     {"transform": [{"filter": "datum.kind === 'sample'"}], "mark": {"type": "line", "interpolate": "monotone", "color": "#cdf0c6", "strokeWidth": 0.9}},
     {"transform": [{"filter": "datum.kind === 'baseline'"}], "mark": {"type": "line", "interpolate": "monotone", "color": "#1d7a2c", "strokeWidth": 1.3}},
     {"transform": [{"filter": "datum.kind === 'threshold'"}], "mark": {"type": "line", "color": "#2f8f3f", "strokeWidth": 1.4},
      "encoding": {
        "x": {"field": "cycle", "type": "quantitative", "scale": {"domain": [0, 32], "nice": false, "zero": false}, "axis": {"orient": "top", "title": "a", "titleX": -23, "titleY": 7, "titleAlign": "left", "titleBaseline": "alphabetic", "titleAngle": 0, "titleFontSize": 17, "titleColor": "#000", "labels": false, "grid": false, "values": [0,1,2,3,4,5,6,7,8,9,10,11,12,13,14,15,16,17,18,19,20,21,22,23,24,25,26,27,28,29,30,31,32], "tickSize": {"condition": {"test": "datum.value % 5 === 0", "value": 3}, "value": 1.5}}},
        "y": {"field": "rfu", "type": "quantitative", "scale": {"domain": [-0.3, 13.4], "nice": false, "zero": false}, "axis": {"orient": "right", "title": null, "labels": false, "grid": false, "values": [0,1,2,3,4,5,6,7,8,9,10,11,12,13], "tickSize": {"condition": {"test": "datum.value % 2 === 0", "value": 3}, "value": 1.5}}}}}
   ],
   "resolve": {"axis": {"x": "independent", "y": "independent"}}
  },
  {"width": 191, "height": 114, "title": "Melt Peak",
   "data": {"name": "melt"}, "transform": [{"filter": "datum.panel === 'a'"}],
   "encoding": {
     "x": {"field": "temp", "type": "quantitative", "scale": {"domain": [63.3, 95.5], "nice": false, "zero": false}, "axis": null},
     "y": {"field": "dfdt", "type": "quantitative", "scale": {"domain": [-40, 2140], "nice": false, "zero": false}, "axis": null},
     "detail": {"field": "series"}},
   "layer": [
     {"transform": [{"filter": "datum.kind === 'sample'"}], "mark": {"type": "line", "interpolate": "monotone", "color": "#5aa85a", "strokeWidth": 2.4},
      "encoding": {
        "x": {"field": "temp", "type": "quantitative", "scale": {"domain": [63.3, 95.5], "nice": false, "zero": false}, "axis": {"orient": "bottom", "title": "Temperature, Celsius", "values": [64,65,66,67,68,69,70,71,72,73,74,75,76,77,78,79,80,81,82,83,84,85,86,87,88,89,90,91,92,93,94,95], "labelExpr": "datum.value % 5 === 0 ? datum.label : ''", "tickSize": {"condition": {"test": "datum.value % 5 === 0", "value": 3}, "value": 1.5}, "gridOpacity": {"condition": {"test": "datum.value % 5 === 0", "value": 1}, "value": 0}}},
        "y": {"field": "dfdt", "type": "quantitative", "scale": {"domain": [-40, 2140], "nice": false, "zero": false}, "axis": {"orient": "left", "title": "-d(RFU)/dT", "titlePadding": 3, "values": [0,100,200,300,400,500,600,700,800,900,1000,1100,1200,1300,1400,1500,1600,1700,1800,1900,2000,2100], "labelExpr": "datum.value % 500 === 0 ? datum.label : ''", "format": "d", "tickSize": {"condition": {"test": "datum.value % 500 === 0", "value": 3}, "value": 1.5}, "gridOpacity": {"condition": {"test": "datum.value % 500 === 0", "value": 1}, "value": 0}}}}},
     {"transform": [{"filter": "datum.kind === 'sample'"}], "mark": {"type": "line", "interpolate": "monotone", "color": "#cdf0c6", "strokeWidth": 0.9}},
     {"transform": [{"filter": "datum.kind === 'baseline'"}], "mark": {"type": "line", "interpolate": "monotone", "color": "#1d7a2c", "strokeWidth": 1.3}},
     {"transform": [{"filter": "datum.kind === 'threshold'"}], "mark": {"type": "line", "color": "#4f9a6a", "strokeWidth": 2},
      "encoding": {
        "x": {"field": "temp", "type": "quantitative", "scale": {"domain": [63.3, 95.5], "nice": false, "zero": false}, "axis": {"orient": "top", "title": null, "labels": false, "grid": false, "values": [64,65,66,67,68,69,70,71,72,73,74,75,76,77,78,79,80,81,82,83,84,85,86,87,88,89,90,91,92,93,94,95], "tickSize": {"condition": {"test": "datum.value % 5 === 0", "value": 3}, "value": 1.5}}},
        "y": {"field": "dfdt", "type": "quantitative", "scale": {"domain": [-40, 2140], "nice": false, "zero": false}, "axis": {"orient": "right", "title": null, "labels": false, "grid": false, "values": [0,100,200,300,400,500,600,700,800,900,1000,1100,1200,1300,1400,1500,1600,1700,1800,1900,2000,2100], "tickSize": {"condition": {"test": "datum.value % 500 === 0", "value": 3}, "value": 1.5}}}}}
   ],
   "resolve": {"axis": {"x": "independent", "y": "independent"}}
  }
 ], "spacing": 9},
{"hconcat": [
  {"width": 203, "height": 109, "title": "Amplification",
   "data": {"name": "amp"}, "transform": [{"filter": "datum.panel === 'b'"}],
   "encoding": {
     "x": {"field": "cycle", "type": "quantitative", "scale": {"domain": [0, 32], "nice": false, "zero": false}, "axis": null},
     "y": {"field": "rfu", "type": "quantitative", "scale": {"domain": [-0.4, 11.8], "nice": false, "zero": false}, "axis": null},
     "detail": {"field": "series"}},
   "layer": [
     {"transform": [{"filter": "datum.kind === 'sample'"}], "mark": {"type": "line", "interpolate": "monotone", "color": "#5aa85a", "strokeWidth": 2.4},
      "encoding": {
        "x": {"field": "cycle", "type": "quantitative", "scale": {"domain": [0, 32], "nice": false, "zero": false}, "axis": {"orient": "bottom", "title": "Cycles", "values": [0,1,2,3,4,5,6,7,8,9,10,11,12,13,14,15,16,17,18,19,20,21,22,23,24,25,26,27,28,29,30,31,32], "labelExpr": "datum.value % 5 === 0 ? datum.label : ''", "tickSize": {"condition": {"test": "datum.value % 5 === 0", "value": 3}, "value": 1.5}, "gridOpacity": {"condition": {"test": "datum.value % 5 === 0", "value": 1}, "value": 0}}},
        "y": {"field": "rfu", "type": "quantitative", "scale": {"domain": [-0.4, 11.8], "nice": false, "zero": false}, "axis": {"orient": "left", "title": "RFU (10^3)", "titlePadding": 2, "values": [0,1,2,3,4,5,6,7,8,9,10,11], "labelExpr": "datum.value % 2 === 0 ? datum.label : ''", "tickSize": {"condition": {"test": "datum.value % 2 === 0", "value": 3}, "value": 1.5}, "gridOpacity": {"condition": {"test": "datum.value % 2 === 0", "value": 1}, "value": 0}}}}},
     {"transform": [{"filter": "datum.kind === 'sample'"}], "mark": {"type": "line", "interpolate": "monotone", "color": "#cdf0c6", "strokeWidth": 0.9}},
     {"transform": [{"filter": "datum.kind === 'baseline'"}], "mark": {"type": "line", "interpolate": "monotone", "color": "#1d7a2c", "strokeWidth": 1.3}},
     {"transform": [{"filter": "datum.kind === 'threshold'"}], "mark": {"type": "line", "color": "#2f8f3f", "strokeWidth": 1.4},
      "encoding": {
        "x": {"field": "cycle", "type": "quantitative", "scale": {"domain": [0, 32], "nice": false, "zero": false}, "axis": {"orient": "top", "title": "b", "titleX": -23, "titleY": 7, "titleAlign": "left", "titleBaseline": "alphabetic", "titleAngle": 0, "titleFontSize": 17, "titleColor": "#000", "labels": false, "grid": false, "values": [0,1,2,3,4,5,6,7,8,9,10,11,12,13,14,15,16,17,18,19,20,21,22,23,24,25,26,27,28,29,30,31,32], "tickSize": {"condition": {"test": "datum.value % 5 === 0", "value": 3}, "value": 1.5}}},
        "y": {"field": "rfu", "type": "quantitative", "scale": {"domain": [-0.4, 11.8], "nice": false, "zero": false}, "axis": {"orient": "right", "title": null, "labels": false, "grid": false, "values": [0,1,2,3,4,5,6,7,8,9,10,11], "tickSize": {"condition": {"test": "datum.value % 2 === 0", "value": 3}, "value": 1.5}}}}}
   ],
   "resolve": {"axis": {"x": "independent", "y": "independent"}}
  },
  {"width": 188, "height": 114, "title": "Melt Peak",
   "data": {"name": "melt"}, "transform": [{"filter": "datum.panel === 'b'"}],
   "encoding": {
     "x": {"field": "temp", "type": "quantitative", "scale": {"domain": [63.3, 95.1], "nice": false, "zero": false}, "axis": null},
     "y": {"field": "dfdt", "type": "quantitative", "scale": {"domain": [-30, 1900], "nice": false, "zero": false}, "axis": null},
     "detail": {"field": "series"}},
   "layer": [
     {"transform": [{"filter": "datum.kind === 'sample'"}], "mark": {"type": "line", "interpolate": "monotone", "color": "#5aa85a", "strokeWidth": 2.4},
      "encoding": {
        "x": {"field": "temp", "type": "quantitative", "scale": {"domain": [63.3, 95.1], "nice": false, "zero": false}, "axis": {"orient": "bottom", "title": "Temperature, Celsius", "values": [64,65,66,67,68,69,70,71,72,73,74,75,76,77,78,79,80,81,82,83,84,85,86,87,88,89,90,91,92,93,94,95], "labelExpr": "datum.value % 5 === 0 ? datum.label : ''", "tickSize": {"condition": {"test": "datum.value % 5 === 0", "value": 3}, "value": 1.5}, "gridOpacity": {"condition": {"test": "datum.value % 5 === 0", "value": 1}, "value": 0}}},
        "y": {"field": "dfdt", "type": "quantitative", "scale": {"domain": [-30, 1900], "nice": false, "zero": false}, "axis": {"orient": "left", "title": "-d(RFU)/dT", "titlePadding": 3, "values": [0,100,200,300,400,500,600,700,800,900,1000,1100,1200,1300,1400,1500,1600,1700,1800], "labelExpr": "datum.value % 500 === 0 ? datum.label : ''", "format": "d", "tickSize": {"condition": {"test": "datum.value % 500 === 0", "value": 3}, "value": 1.5}, "gridOpacity": {"condition": {"test": "datum.value % 500 === 0", "value": 1}, "value": 0}}}}},
     {"transform": [{"filter": "datum.kind === 'sample'"}], "mark": {"type": "line", "interpolate": "monotone", "color": "#cdf0c6", "strokeWidth": 0.9}},
     {"transform": [{"filter": "datum.kind === 'baseline'"}], "mark": {"type": "line", "interpolate": "monotone", "color": "#1d7a2c", "strokeWidth": 1.3}},
     {"transform": [{"filter": "datum.kind === 'threshold'"}], "mark": {"type": "line", "color": "#4f9a6a", "strokeWidth": 2},
      "encoding": {
        "x": {"field": "temp", "type": "quantitative", "scale": {"domain": [63.3, 95.1], "nice": false, "zero": false}, "axis": {"orient": "top", "title": null, "labels": false, "grid": false, "values": [64,65,66,67,68,69,70,71,72,73,74,75,76,77,78,79,80,81,82,83,84,85,86,87,88,89,90,91,92,93,94,95], "tickSize": {"condition": {"test": "datum.value % 5 === 0", "value": 3}, "value": 1.5}}},
        "y": {"field": "dfdt", "type": "quantitative", "scale": {"domain": [-30, 1900], "nice": false, "zero": false}, "axis": {"orient": "right", "title": null, "labels": false, "grid": false, "values": [0,100,200,300,400,500,600,700,800,900,1000,1100,1200,1300,1400,1500,1600,1700,1800], "tickSize": {"condition": {"test": "datum.value % 500 === 0", "value": 3}, "value": 1.5}}}}}
   ],
   "resolve": {"axis": {"x": "independent", "y": "independent"}}
  }
 ], "spacing": 9},
{"hconcat": [
  {"width": 204, "height": 118, "title": "Amplification",
   "data": {"name": "amp"}, "transform": [{"filter": "datum.panel === 'c'"}],
   "encoding": {
     "x": {"field": "cycle", "type": "quantitative", "scale": {"domain": [-0.2, 44.8], "nice": false, "zero": false}, "axis": null},
     "y": {"field": "rfu", "type": "quantitative", "scale": {"domain": [-0.65, 12.7], "nice": false, "zero": false}, "axis": null},
     "detail": {"field": "series"}},
   "layer": [
     {"transform": [{"filter": "datum.kind === 'sample'"}], "mark": {"type": "line", "interpolate": "monotone", "color": "#5aa85a", "strokeWidth": 2.4},
      "encoding": {
        "x": {"field": "cycle", "type": "quantitative", "scale": {"domain": [-0.2, 44.8], "nice": false, "zero": false}, "axis": {"orient": "bottom", "title": "Cycles", "values": [0,2,4,6,8,10,12,14,16,18,20,22,24,26,28,30,32,34,36,38,40,42,44], "labelExpr": "datum.value % 10 === 0 ? datum.label : ''", "tickSize": {"condition": {"test": "datum.value % 10 === 0", "value": 3}, "value": 1.5}, "gridOpacity": {"condition": {"test": "datum.value % 10 === 0", "value": 1}, "value": 0}}},
        "y": {"field": "rfu", "type": "quantitative", "scale": {"domain": [-0.65, 12.7], "nice": false, "zero": false}, "axis": {"orient": "left", "title": "RFU (10^3)", "titlePadding": 2, "values": [0,1,2,3,4,5,6,7,8,9,10,11,12], "labelExpr": "datum.value % 2 === 0 ? datum.label : ''", "tickSize": {"condition": {"test": "datum.value % 2 === 0", "value": 3}, "value": 1.5}, "gridOpacity": {"condition": {"test": "datum.value % 2 === 0", "value": 1}, "value": 0}}}}},
     {"transform": [{"filter": "datum.kind === 'sample'"}], "mark": {"type": "line", "interpolate": "monotone", "color": "#cdf0c6", "strokeWidth": 0.9}},
     {"transform": [{"filter": "datum.kind === 'baseline'"}], "mark": {"type": "line", "interpolate": "monotone", "color": "#1d7a2c", "strokeWidth": 1.3}},
     {"transform": [{"filter": "datum.kind === 'threshold'"}], "mark": {"type": "line", "color": "#2f8f3f", "strokeWidth": 1.4},
      "encoding": {
        "x": {"field": "cycle", "type": "quantitative", "scale": {"domain": [-0.2, 44.8], "nice": false, "zero": false}, "axis": {"orient": "top", "title": "c", "titleX": -23, "titleY": 7, "titleAlign": "left", "titleBaseline": "alphabetic", "titleAngle": 0, "titleFontSize": 17, "titleColor": "#000", "labels": false, "grid": false, "values": [0,2,4,6,8,10,12,14,16,18,20,22,24,26,28,30,32,34,36,38,40,42,44], "tickSize": {"condition": {"test": "datum.value % 10 === 0", "value": 3}, "value": 1.5}}},
        "y": {"field": "rfu", "type": "quantitative", "scale": {"domain": [-0.65, 12.7], "nice": false, "zero": false}, "axis": {"orient": "right", "title": null, "labels": false, "grid": false, "values": [0,1,2,3,4,5,6,7,8,9,10,11,12], "tickSize": {"condition": {"test": "datum.value % 2 === 0", "value": 3}, "value": 1.5}}}}}
   ],
   "resolve": {"axis": {"x": "independent", "y": "independent"}}
  },
  {"width": 185, "height": 113, "title": "Melt Peak",
   "data": {"name": "melt"}, "transform": [{"filter": "datum.panel === 'c'"}],
   "encoding": {
     "x": {"field": "temp", "type": "quantitative", "scale": {"domain": [63.3, 95.2], "nice": false, "zero": false}, "axis": null},
     "y": {"field": "dfdt", "type": "quantitative", "scale": {"domain": [-40, 1850], "nice": false, "zero": false}, "axis": null},
     "detail": {"field": "series"}},
   "layer": [
     {"transform": [{"filter": "datum.kind === 'sample'"}], "mark": {"type": "line", "interpolate": "monotone", "color": "#5aa85a", "strokeWidth": 2.4},
      "encoding": {
        "x": {"field": "temp", "type": "quantitative", "scale": {"domain": [63.3, 95.2], "nice": false, "zero": false}, "axis": {"orient": "bottom", "title": "Temperature, Celsius", "values": [64,65,66,67,68,69,70,71,72,73,74,75,76,77,78,79,80,81,82,83,84,85,86,87,88,89,90,91,92,93,94,95], "labelExpr": "datum.value % 5 === 0 ? datum.label : ''", "tickSize": {"condition": {"test": "datum.value % 5 === 0", "value": 3}, "value": 1.5}, "gridOpacity": {"condition": {"test": "datum.value % 5 === 0", "value": 1}, "value": 0}}},
        "y": {"field": "dfdt", "type": "quantitative", "scale": {"domain": [-40, 1850], "nice": false, "zero": false}, "axis": {"orient": "left", "title": "-d(RFU)/dT", "titlePadding": 3, "values": [0,100,200,300,400,500,600,700,800,900,1000,1100,1200,1300,1400,1500,1600,1700,1800], "labelExpr": "datum.value % 500 === 0 ? datum.label : ''", "format": "d", "tickSize": {"condition": {"test": "datum.value % 500 === 0", "value": 3}, "value": 1.5}, "gridOpacity": {"condition": {"test": "datum.value % 500 === 0", "value": 1}, "value": 0}}}}},
     {"transform": [{"filter": "datum.kind === 'sample'"}], "mark": {"type": "line", "interpolate": "monotone", "color": "#cdf0c6", "strokeWidth": 0.9}},
     {"transform": [{"filter": "datum.kind === 'baseline'"}], "mark": {"type": "line", "interpolate": "monotone", "color": "#1d7a2c", "strokeWidth": 1.3}},
     {"transform": [{"filter": "datum.kind === 'threshold'"}], "mark": {"type": "line", "color": "#2f8f3f", "strokeWidth": 1.6},
      "encoding": {
        "x": {"field": "temp", "type": "quantitative", "scale": {"domain": [63.3, 95.2], "nice": false, "zero": false}, "axis": {"orient": "top", "title": null, "labels": false, "grid": false, "values": [64,65,66,67,68,69,70,71,72,73,74,75,76,77,78,79,80,81,82,83,84,85,86,87,88,89,90,91,92,93,94,95], "tickSize": {"condition": {"test": "datum.value % 5 === 0", "value": 3}, "value": 1.5}}},
        "y": {"field": "dfdt", "type": "quantitative", "scale": {"domain": [-40, 1850], "nice": false, "zero": false}, "axis": {"orient": "right", "title": null, "labels": false, "grid": false, "values": [0,100,200,300,400,500,600,700,800,900,1000,1100,1200,1300,1400,1500,1600,1700,1800], "tickSize": {"condition": {"test": "datum.value % 500 === 0", "value": 3}, "value": 1.5}}}}}
   ],
   "resolve": {"axis": {"x": "independent", "y": "independent"}}
  }
 ], "spacing": 9},
{"hconcat": [
  {"width": 197, "height": 115, "title": "Amplification",
   "data": {"name": "amp"}, "transform": [{"filter": "datum.panel === 'd'"}],
   "encoding": {
     "x": {"field": "cycle", "type": "quantitative", "scale": {"domain": [0, 43], "nice": false, "zero": false}, "axis": null},
     "y": {"field": "rfu", "type": "quantitative", "scale": {"domain": [-0.5, 13.85], "nice": false, "zero": false}, "axis": null},
     "detail": {"field": "series"}},
   "layer": [
     {"transform": [{"filter": "datum.kind === 'sample'"}], "mark": {"type": "line", "interpolate": "monotone", "color": "#5aa85a", "strokeWidth": 2.4},
      "encoding": {
        "x": {"field": "cycle", "type": "quantitative", "scale": {"domain": [0, 43], "nice": false, "zero": false}, "axis": {"orient": "bottom", "title": "Cycles", "values": [0,2,4,6,8,10,12,14,16,18,20,22,24,26,28,30,32,34,36,38,40,42], "labelExpr": "datum.value % 10 === 0 ? datum.label : ''", "tickSize": {"condition": {"test": "datum.value % 10 === 0", "value": 3}, "value": 1.5}, "gridOpacity": {"condition": {"test": "datum.value % 10 === 0", "value": 1}, "value": 0}}},
        "y": {"field": "rfu", "type": "quantitative", "scale": {"domain": [-0.5, 13.85], "nice": false, "zero": false}, "axis": {"orient": "left", "title": "RFU (10^3)", "titlePadding": 2, "values": [0,1,2,3,4,5,6,7,8,9,10,11,12,13], "labelExpr": "datum.value % 2 === 0 ? datum.label : ''", "tickSize": {"condition": {"test": "datum.value % 2 === 0", "value": 3}, "value": 1.5}, "gridOpacity": {"condition": {"test": "datum.value % 2 === 0", "value": 1}, "value": 0}}}}},
     {"transform": [{"filter": "datum.kind === 'sample'"}], "mark": {"type": "line", "interpolate": "monotone", "color": "#cdf0c6", "strokeWidth": 0.9}},
     {"transform": [{"filter": "datum.kind === 'baseline'"}], "mark": {"type": "line", "interpolate": "monotone", "color": "#1d7a2c", "strokeWidth": 1.3}},
     {"transform": [{"filter": "datum.kind === 'threshold'"}], "mark": {"type": "line", "color": "#2f8f3f", "strokeWidth": 1.4},
      "encoding": {
        "x": {"field": "cycle", "type": "quantitative", "scale": {"domain": [0, 43], "nice": false, "zero": false}, "axis": {"orient": "top", "title": "d", "titleX": -22, "titleY": 7, "titleAlign": "left", "titleBaseline": "alphabetic", "titleAngle": 0, "titleFontSize": 17, "titleColor": "#000", "labels": false, "grid": false, "values": [0,2,4,6,8,10,12,14,16,18,20,22,24,26,28,30,32,34,36,38,40,42], "tickSize": {"condition": {"test": "datum.value % 10 === 0", "value": 3}, "value": 1.5}}},
        "y": {"field": "rfu", "type": "quantitative", "scale": {"domain": [-0.5, 13.85], "nice": false, "zero": false}, "axis": {"orient": "right", "title": null, "labels": false, "grid": false, "values": [0,1,2,3,4,5,6,7,8,9,10,11,12,13], "tickSize": {"condition": {"test": "datum.value % 2 === 0", "value": 3}, "value": 1.5}}}}}
   ],
   "resolve": {"axis": {"x": "independent", "y": "independent"}}
  },
  {"width": 182, "height": 116, "title": "Melt Peak",
   "data": {"name": "melt"}, "transform": [{"filter": "datum.panel === 'd'"}],
   "encoding": {
     "x": {"field": "temp", "type": "quantitative", "scale": {"domain": [64.5, 96.3], "nice": false, "zero": false}, "axis": null},
     "y": {"field": "dfdt", "type": "quantitative", "scale": {"domain": [-35, 1725], "nice": false, "zero": false}, "axis": null},
     "detail": {"field": "series"}},
   "layer": [
     {"transform": [{"filter": "datum.kind === 'sample'"}], "mark": {"type": "line", "interpolate": "monotone", "color": "#5aa85a", "strokeWidth": 2.4},
      "encoding": {
        "x": {"field": "temp", "type": "quantitative", "scale": {"domain": [64.5, 96.3], "nice": false, "zero": false}, "axis": {"orient": "bottom", "title": "Temperature, Celsius", "values": [65,66,67,68,69,70,71,72,73,74,75,76,77,78,79,80,81,82,83,84,85,86,87,88,89,90,91,92,93,94,95,96], "labelExpr": "datum.value % 5 === 0 ? datum.label : ''", "tickSize": {"condition": {"test": "datum.value % 5 === 0", "value": 3}, "value": 1.5}, "gridOpacity": {"condition": {"test": "datum.value % 5 === 0", "value": 1}, "value": 0}}},
        "y": {"field": "dfdt", "type": "quantitative", "scale": {"domain": [-35, 1725], "nice": false, "zero": false}, "axis": {"orient": "left", "title": "-d(RFU)/dT", "titlePadding": 3, "values": [0,100,200,300,400,500,600,700,800,900,1000,1100,1200,1300,1400,1500,1600,1700], "labelExpr": "datum.value % 500 === 0 ? datum.label : ''", "format": "d", "tickSize": {"condition": {"test": "datum.value % 500 === 0", "value": 3}, "value": 1.5}, "gridOpacity": {"condition": {"test": "datum.value % 500 === 0", "value": 1}, "value": 0}}}}},
     {"transform": [{"filter": "datum.kind === 'sample'"}], "mark": {"type": "line", "interpolate": "monotone", "color": "#cdf0c6", "strokeWidth": 0.9}},
     {"transform": [{"filter": "datum.kind === 'baseline'"}], "mark": {"type": "line", "interpolate": "monotone", "color": "#1d7a2c", "strokeWidth": 1.3}},
     {"transform": [{"filter": "datum.kind === 'threshold'"}], "mark": {"type": "line", "color": "#2f8f3f", "strokeWidth": 1.6},
      "encoding": {
        "x": {"field": "temp", "type": "quantitative", "scale": {"domain": [64.5, 96.3], "nice": false, "zero": false}, "axis": {"orient": "top", "title": null, "labels": false, "grid": false, "values": [65,66,67,68,69,70,71,72,73,74,75,76,77,78,79,80,81,82,83,84,85,86,87,88,89,90,91,92,93,94,95,96], "tickSize": {"condition": {"test": "datum.value % 5 === 0", "value": 3}, "value": 1.5}}},
        "y": {"field": "dfdt", "type": "quantitative", "scale": {"domain": [-35, 1725], "nice": false, "zero": false}, "axis": {"orient": "right", "title": null, "labels": false, "grid": false, "values": [0,100,200,300,400,500,600,700,800,900,1000,1100,1200,1300,1400,1500,1600,1700], "tickSize": {"condition": {"test": "datum.value % 500 === 0", "value": 3}, "value": 1.5}}}}}
   ],
   "resolve": {"axis": {"x": "independent", "y": "independent"}}
  }
 ], "spacing": 27}
],
"spacing": 5
}
